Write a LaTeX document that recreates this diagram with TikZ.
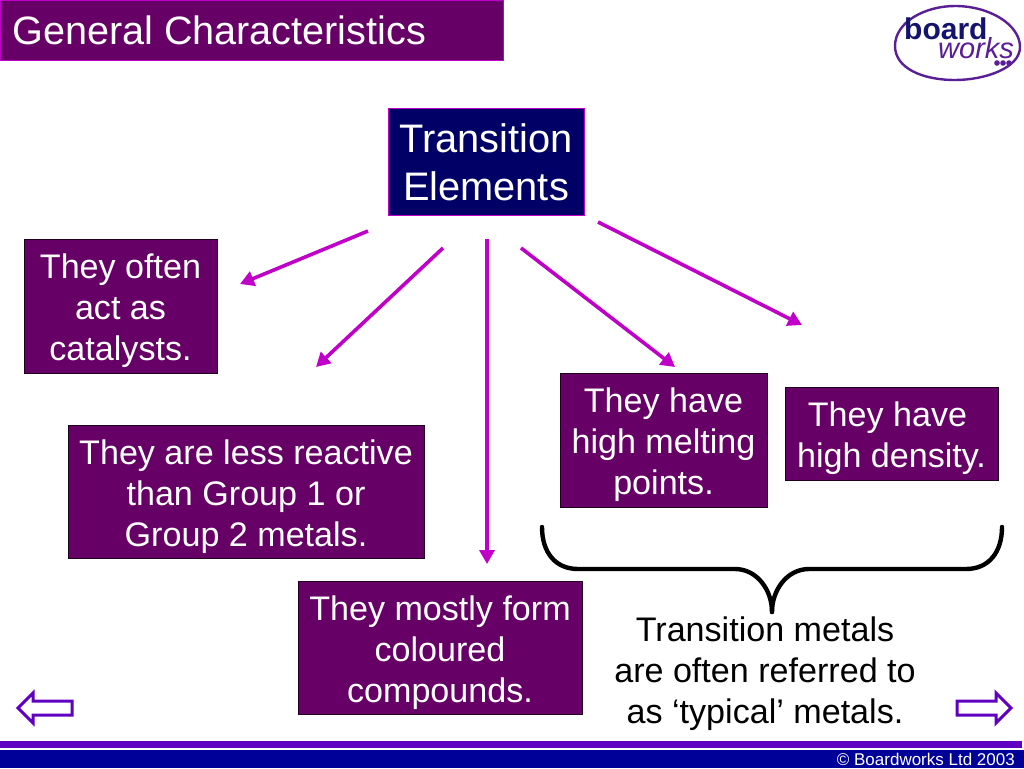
\documentclass[tikz,border=0pt]{standalone}
\usepackage{fontspec}
\setmainfont{Liberation Sans}
\usetikzlibrary{arrows.meta}
\definecolor{plum}{HTML}{660066}
\definecolor{navyb}{HTML}{000066}
\definecolor{magline}{HTML}{C000C8}
\definecolor{violetb}{HTML}{6000C0}
\definecolor{footblue}{HTML}{000099}
\definecolor{logonavy}{HTML}{14146E}
\definecolor{logopurple}{HTML}{5A1E96}
\newcommand{\dnstrut}{\rule{0pt}{35pt}}
\tikzset{
  x=1pt,y=-1pt,
  box/.style={draw=#1,fill=plum,text=white,inner sep=0pt,align=center,line width=1pt,
    font=\fontsize{34.1}{41}\selectfont},
  box/.default={black!70!plum},
  conn/.style={draw=magline,line width=3.6pt,-{Triangle[length=14pt,width=15pt]}},
  hollow/.style={draw=violetb,line width=3pt,fill=white,miter limit=10},
  brace/.style={draw=black,line width=4.4pt,line cap=round},
}
\begin{document}
\begin{tikzpicture}
\useasboundingbox (0,0) rectangle (1024,768);
\fill[white] (0,0) rectangle (1024,768);
% title
\node[box={magline},minimum width=503pt,minimum height=60pt,anchor=north west] (title) at (0,0) {};
\node[anchor=base west,text=white,inner sep=0pt,font=\fontsize{39.6}{40}\selectfont] (titletext) at (12,45) {General Characteristics};
% logo
\draw[logopurple,line width=2.4pt] (895,46) .. controls (895,22) and (925,6) .. (955,6)
   .. controls (990,6) and (1020,25) .. (1020,47)
   .. controls (1020,68) and (985,80) .. (955,80)
   .. controls (922,80) and (895,68) .. (895,46) -- cycle;
\node[anchor=base west,inner sep=0pt,text=logonavy,font=\fontsize{30}{30}\selectfont\bfseries] (logoa) at (904,40) {board};
\node[anchor=base west,inner sep=0pt,text=logopurple,font=\fontsize{29}{29}\selectfont\itshape] (logob) at (938,59) {works};
\fill[logopurple] (997,63) circle (2.8) (1003,63) circle (2.8) (1009,63) circle (2.8);
% main boxes
\node[box={magline},fill=navyb,minimum width=196pt,minimum height=107pt,font=\fontsize{39.8}{48}\selectfont] (main) at (486,162) {Transition\\Elements};
\node[box,minimum width=193pt,minimum height=134pt] (cat) at (120.5,306) {\dnstrut They often\\act as\\catalysts.};
\node[box,minimum width=356pt,minimum height=133pt] (react) at (246,491.5) {\dnstrut They are less reactive\\than Group 1 or\\Group 2 metals.};
\node[box,minimum width=284pt,minimum height=133pt] (col) at (440,647.5) {\dnstrut They mostly form\\coloured\\compounds.};
\node[box,minimum width=207pt,minimum height=134pt] (melt) at (663.5,440) {\dnstrut They have\\high melting\\points.};
\node[box,minimum width=213pt,minimum height=93pt] (dens) at (891.5,433.5) {\dnstrut They have\hspace*{8pt}\\high density.};
% arrow ends
\coordinate (a1s) at (368,231); \coordinate (a1e) at (240,284);
\coordinate (a2s) at (443,248); \coordinate (a2e) at (316,367);
\coordinate (a3s) at (487,239); \coordinate (a3e) at (487,564);
\coordinate (a4s) at (521,248); \coordinate (a4e) at (675,367);
\coordinate (a5s) at (598,222); \coordinate (a5e) at (802,325);
\draw[conn] (a1s) -- (a1e);
\draw[conn] (a2s) -- (a2e);
\draw[conn] (a3s) -- (a3e);
\draw[conn] (a4s) -- (a4e);
\draw[conn] (a5s) -- (a5e);
% brace
\draw[brace] (542,527) .. controls (542,552) and (555,569) .. (578,569) -- (735,569)
   .. controls (757,569) and (772,590) .. (772,612);
\draw[brace] (1002,527) .. controls (1002,552) and (989,569) .. (966,569) -- (809,569)
   .. controls (787,569) and (772,590) .. (772,612);
\node[inner sep=0pt,align=center,font=\fontsize{34.1}{41}\selectfont] (note) at (765,674) {Transition metals\\are often referred to\\as ‘typical’ metals.};
% nav arrows
\draw[hollow] (18,708) -- (33,693) -- (33,701) -- (72,701) -- (72,715) -- (33,715) -- (33,723) -- cycle;
\draw[hollow] (1011,708) -- (996,693) -- (996,701) -- (957,701) -- (957,715) -- (996,715) -- (996,723) -- cycle;
% footer
\fill[violetb] (0,741) rectangle (1022,748);
\fill[footblue] (0,750) rectangle (1024,768);
\node[anchor=base east,inner sep=0pt,text=white,font=\fontsize{17}{17}\selectfont] (copy) at (1015,765) {© Boardworks Ltd 2003};
\end{tikzpicture}
\end{document}
